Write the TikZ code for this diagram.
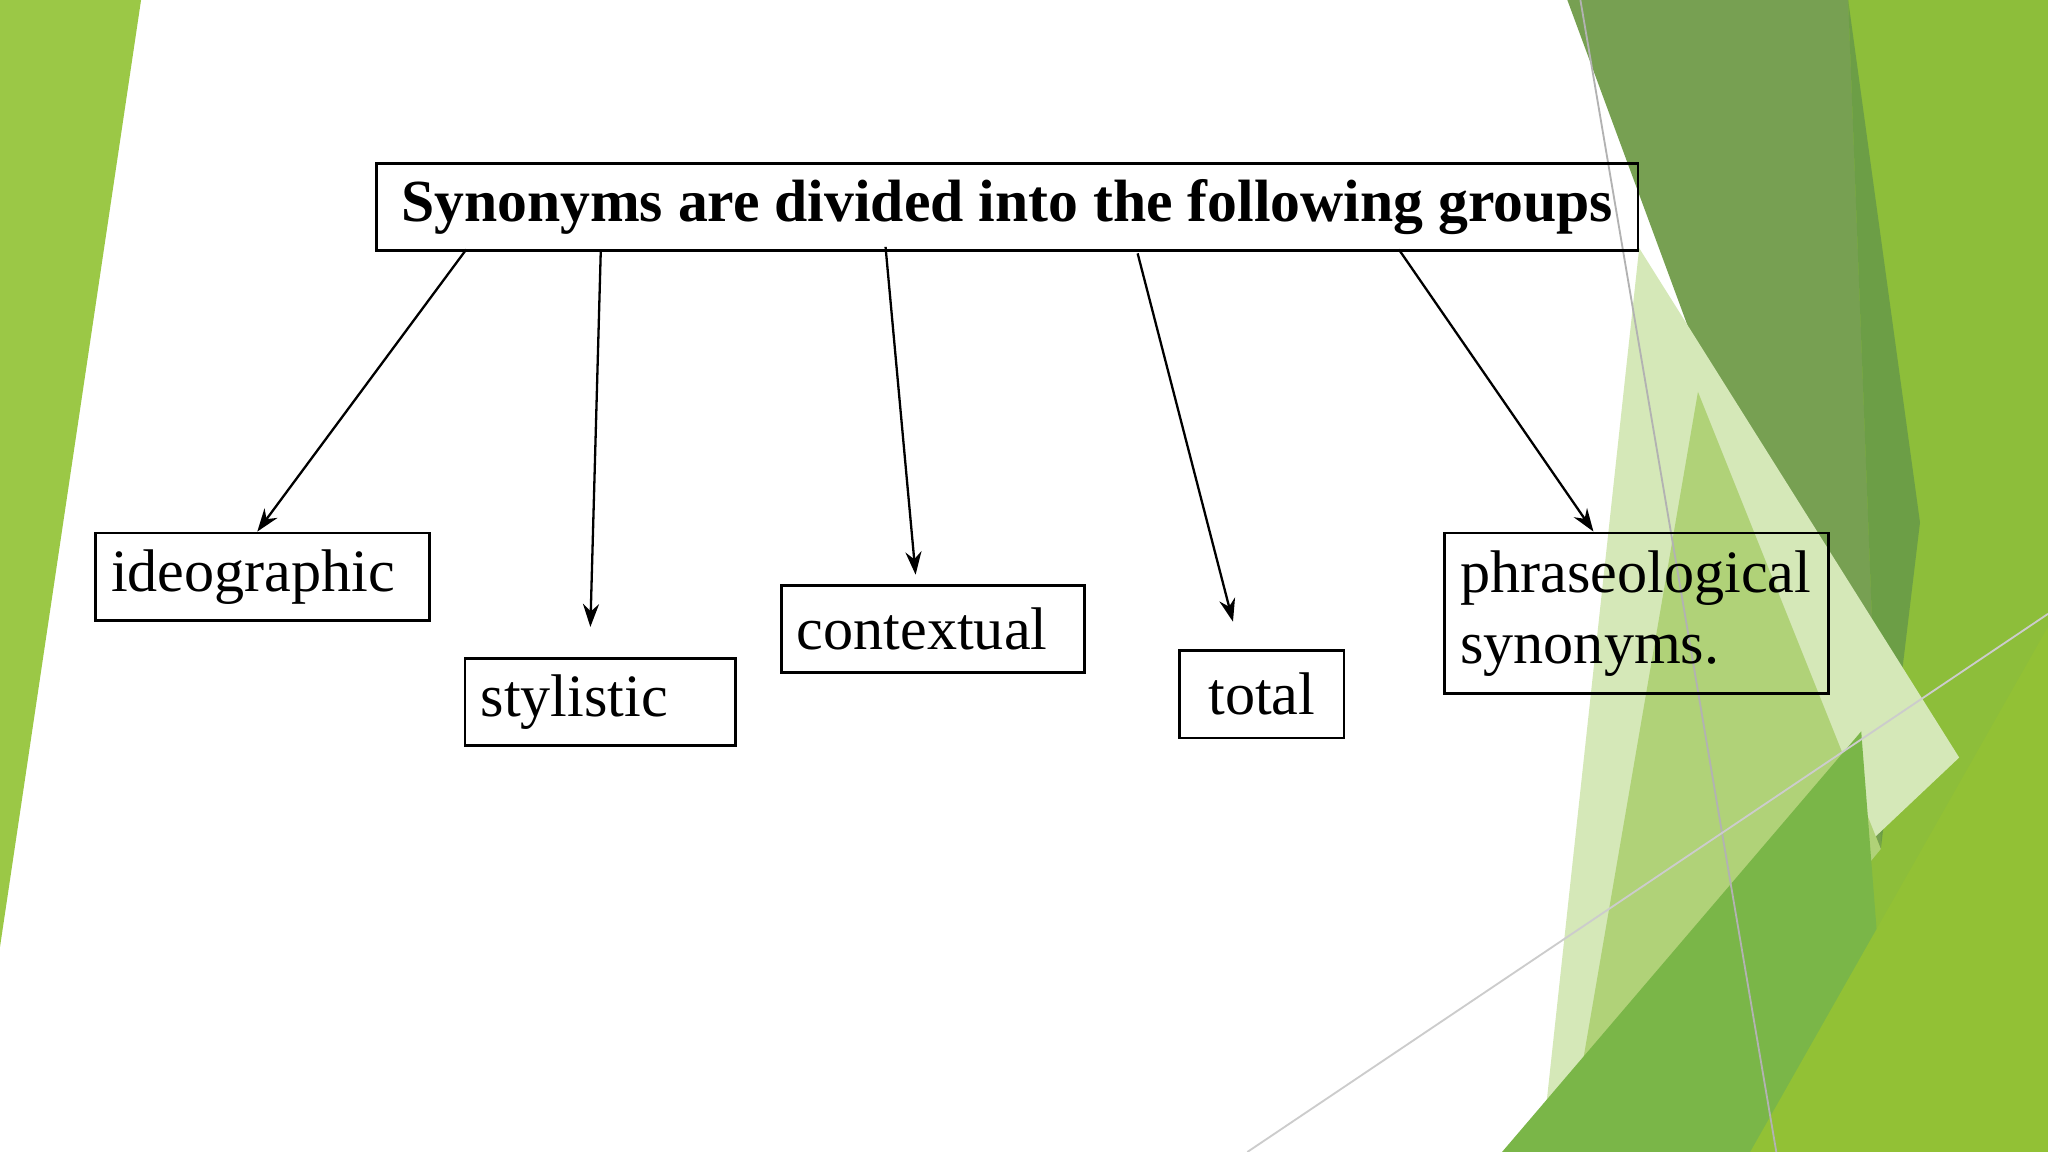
\documentclass[tikz,border=0pt]{standalone}
\usepackage{fontspec}
\setmainfont{Liberation Serif}
\usetikzlibrary{arrows.meta}
\begin{document}
\begin{tikzpicture}[x=0.01cm,y=-0.01cm,
 box/.style={draw=black,line width=0.6pt,anchor=north west,inner ysep=0pt,align=left,font=\fontsize{13.1}{15.5}\selectfont},
 arr/.style={-{Stealth[length=5pt,width=3.5pt]},line width=0.5pt}]
\useasboundingbox (0,0) rectangle (1568,882);
\fill[white] (0,0) rectangle (1568,882);
% background
\fill[color={rgb,255:red,155;green,200;blue,70}] (0,0) -- (108,0) -- (0,725) -- cycle;
\fill[color={rgb,255:red,141;green,190;blue,58}] (1410,0) -- (1568,0) -- (1568,882) -- (1420,882) -- cycle;
\fill[color={rgb,255:red,119;green,160;blue,82}] (1200,0) -- (1415,0) -- (1440,650) -- cycle;
\fill[color={rgb,255:red,108;green,158;blue,70}] (1415,0) -- (1440,650) -- (1470,400) -- cycle;
\fill[color={rgb,255:red,213;green,232;blue,184}] (1255,190) -- (1500,580) -- (1180,882) -- cycle;
\fill[color={rgb,255:red,176;green,210;blue,120}] (1300,300) -- (1440,650) -- (1250,882)--(1200,882) -- cycle;
\fill[color={rgb,255:red,122;green,182;blue,72}] (1150,882) -- (1425,560) -- (1450,882) -- cycle;
\fill[color={rgb,255:red,146;green,193;blue,53}] (1340,882) -- (1568,480) -- (1568,882) -- cycle;
\draw[gray!60,line width=0.4pt] (1210,0) -- (1360,882);
\draw[gray!40,line width=0.4pt] (955,882) -- (1568,470);
% nodes
\node[box,minimum width=966*0.01cm,minimum height=67*0.01cm,font=\bfseries\fontsize{13}{15}\selectfont,inner xsep=12*0.01cm] (t) at (287,124) {Synonyms are divided into the following groups};
\node[box,minimum width=256*0.01cm,minimum height=67*0.01cm,text width=232*0.01cm,inner xsep=12*0.01cm] (a) at (72,407) {ideographic};
\node[box,minimum width=207*0.01cm,minimum height=67*0.01cm,text width=183*0.01cm,inner xsep=12*0.01cm] (b) at (355,503) {stylistic};
\node[box,minimum width=232*0.01cm,minimum height=67*0.01cm,text width=208*0.01cm,inner xsep=12*0.01cm] (c) at (597,447) {contextual};
\node[box,minimum width=126*0.01cm,minimum height=67*0.01cm,text width=102*0.01cm,inner xsep=12*0.01cm,align=center] (d) at (902,497) {total};
\node[box,minimum width=294*0.01cm,minimum height=123*0.01cm,text width=270*0.01cm,inner xsep=12*0.01cm] (e) at (1105,407) {phraseological\\synonyms.};
% arrows
\coordinate (s1) at (357,191); \coordinate (e1) at (197,407);
\coordinate (s2) at (460,191); \coordinate (e2) at (452,480);
\coordinate (s3) at (678,189); \coordinate (e3) at (701,440);
\coordinate (s4) at (871,194); \coordinate (e4) at (944,476);
\coordinate (s5) at (1071,191); \coordinate (e5) at (1220,407);
\draw[arr] (s1) -- (e1);
\draw[arr] (s2) -- (e2);
\draw[arr] (s3) -- (e3);
\draw[arr] (s4) -- (e4);
\draw[arr] (s5) -- (e5);
\end{tikzpicture}
\end{document}
